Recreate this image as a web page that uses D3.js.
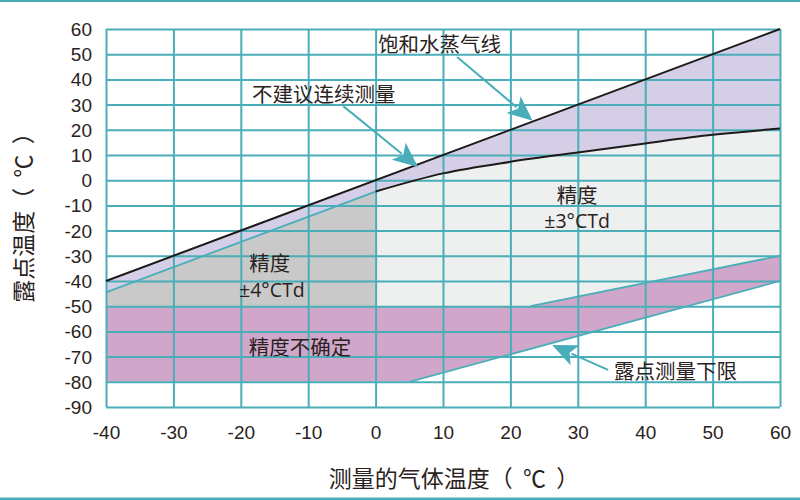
<!DOCTYPE html>
<html>
<head>
<meta charset="utf-8">
<script src="https://cdn.jsdelivr.net/npm/d3@7"></script>
<style>
  body { margin: 0; background: #fff; }
  svg { display: block; }
  .tick text { font-family: "Liberation Sans", Arial, sans-serif; font-size: 19px; fill: #2a2220; }
  .cn { font-family: "Noto Sans CJK SC", sans-serif; fill: #2a2220; }
  .lat { font-family: "Open Sans", "Liberation Sans", sans-serif; fill: #2a2220; }
</style>
</head>
<body>
<div id="chart"></div>
<script>
// chart values
var xTicks = [-40, -30, -20, -10, 0, 10, 20, 30, 40, 50, 60];
var yTicks = [60, 50, 40, 30, 20, 10, 0, -10, -20, -30, -40, -50, -60, -70, -80, -90];

// saturated vapour line (dew point = gas temperature)
var satX = [-40, 60];
var satY = [-40, 60];

// lower edge of the "not recommended" band, left part (teal line)
var tealX = [-40, 0];
var tealY = [-44.5, -4.5];

// lower edge of the band, right part (black curve)
var curveX = [0, 10, 20, 30, 40, 50, 60];
var curveY = [-4.5, 2.7, 7.3, 11, 14.6, 18, 20.5];

// lower limits of measurement
var upperLimitX = [23, 60];
var upperLimitY = [-50, -30];
var lowerLimitX = [5, 60];
var lowerLimitY = [-80, -40];

var accuracyTop = -50;
var uncertainBottom = -80;

// text labels [text, x, y] in data units
var labels = [
  ["饱和水蒸气线", 9.5, 54.4, "cn"],
  ["不建议连续测量", -7.7, 34.8, "cn"],
  ["精度", 29.9, -5.3, "cn"],
  ["±3°CTd", 29.9, -15.9, "lat"],
  ["精度", -15.7, -32.6, "cn"],
  ["±4°CTd", -15.4, -43.2, "lat"],
  ["精度不确定", -11.2, -65.6, "cn"],
  ["露点测量下限", 44.5, -75.5, "cn"]
];

// arrows [fromX, fromY, tipX, tipY] in data units
var arrows = [
  [12.1, 48.9, 23.3, 23.6],
  [-4.8, 29.4, 6.3, 5.2],
  [34.5, -75.3, 26.2, -65.4]
];

var svgWidth = 800;
var svgHeight = 500;

var margin = { top: 29, right: 20, bottom: 93, left: 106 };
var chartWidth = 780 - margin.left;
var chartHeight = svgHeight - margin.top - margin.bottom;

var teal = "#4aaeb9";
var ink = "#1f1a1a";

var svg = d3.select("#chart")
  .append("svg")
  .attr("width", svgWidth)
  .attr("height", svgHeight);

// frame lines top and bottom of the page
svg.append("rect").attr("x", 0).attr("y", 0).attr("width", svgWidth).attr("height", 2).attr("fill", teal);
svg.append("rect").attr("x", 0).attr("y", 497.5).attr("width", svgWidth).attr("height", 2.5).attr("fill", teal);

var x = d3.scaleLinear().domain([-40, 60]).range([margin.left, margin.left + chartWidth]);
var y = d3.scaleLinear().domain([-90, 60]).range([margin.top + chartHeight, margin.top]);

var straight = d3.line().x(d => x(d[0])).y(d => y(d[1]));
var smooth = d3.line().x(d => x(d[0])).y(d => y(d[1])).curve(d3.curveMonotoneX);

var curvePts = curveX.map((v, i) => [v, curveY[i]]);
var curveRev = curvePts.slice().reverse();
var tealPts = tealX.map((v, i) => [v, tealY[i]]);
var satPts = satX.map((v, i) => [v, satY[i]]);
var upPts = upperLimitX.map((v, i) => [v, upperLimitY[i]]);
var lowPts = lowerLimitX.map((v, i) => [v, lowerLimitY[i]]);

function pt(p) { return "L" + x(p[0]) + "," + y(p[1]); }

var fills = svg.append("g");

// light region, accuracy ±3
fills.append("path")
  .attr("d", smooth(curvePts) + pt([60, upperLimitY[1]]) + pt([upperLimitX[0], accuracyTop]) + pt([0, accuracyTop]) + "Z")
  .attr("fill", "#eeefef");

// grey region, accuracy ±4
fills.append("path")
  .attr("d", straight(tealPts) + pt([0, accuracyTop]) + pt([-40, accuracyTop]) + "Z")
  .attr("fill", "#c9c9ca");

// lavender band, not recommended
fills.append("path")
  .attr("d", straight(satPts) + pt(curvePts[curvePts.length - 1]) +
    smooth(curveRev).replace(/^M/, "L") + pt(tealPts[1]) + pt(tealPts[0]) + "Z")
  .attr("fill", "#d5cee7");

// pink band, accuracy uncertain
fills.append("path")
  .attr("d", straight([[-40, accuracyTop], upPts[0], upPts[1], lowPts[1], lowPts[0], [-40, uncertainBottom]]) + "Z")
  .attr("fill", "#d0a7cb");

// grid + tick labels
var yAxis = d3.axisLeft(y).tickValues(yTicks).tickSize(-chartWidth).tickPadding(14).tickFormat(d => String(d));
var xAxis = d3.axisBottom(x).tickValues(xTicks).tickSize(-chartHeight).tickPadding(19).tickFormat(d => String(d));

var gy = svg.append("g").attr("transform", `translate(${margin.left},0)`).call(yAxis);
var gx = svg.append("g").attr("transform", `translate(0,${margin.top + chartHeight})`).call(xAxis);
[gx, gy].forEach(function(g) {
  g.select(".domain").remove();
  g.selectAll(".tick line").attr("stroke", teal).attr("stroke-width", 2);
});
gy.selectAll(".tick text").attr("dy", "0.34em");

// teal boundary lines
var bounds = svg.append("g").attr("fill", "none").attr("stroke", teal).attr("stroke-width", 1.8);
bounds.append("path").attr("d", straight(tealPts));
bounds.append("path").attr("d", straight(upPts));
bounds.append("path").attr("d", straight(lowPts));

// black lines
var blk = svg.append("g").attr("fill", "none").attr("stroke", ink).attr("stroke-width", 2);
blk.append("path").attr("d", straight(satPts));
blk.append("path").attr("d", smooth(curvePts));

// arrows
var arr = svg.append("g");
arrows.forEach(function(a) {
  var sx = x(a[0]), sy = y(a[1]), tx = x(a[2]), ty = y(a[3]);
  var len = Math.hypot(tx - sx, ty - sy);
  var ux = (tx - sx) / len, uy = (ty - sy) / len;
  var L = 25, W = 11;
  var bx = tx - ux * L, by = ty - uy * L;
  arr.append("line")
    .attr("x1", sx).attr("y1", sy).attr("x2", bx + ux * 4).attr("y2", by + uy * 4)
    .attr("stroke", teal).attr("stroke-width", 2);
  arr.append("path")
    .attr("d", `M${tx},${ty}L${bx - uy * W},${by + ux * W}L${bx + ux * 6},${by + uy * 6}L${bx + uy * W},${by - ux * W}Z`)
    .attr("fill", teal);
});

// annotation texts
svg.append("g").selectAll("text")
  .data(labels)
  .enter()
  .append("text")
  .attr("class", d => d[3])
  .attr("x", d => x(d[1]))
  .attr("y", d => y(d[2]))
  .attr("text-anchor", "middle")
  .attr("dominant-baseline", "central")
  .attr("font-size", d => d[3] == "cn" ? 20.5 : 19.5)
  .text(d => d[0]);

// axis titles
svg.append("text")
  .attr("class", "cn")
  .attr("transform", "translate(22," + 212 + ") rotate(-90)")
  .attr("text-anchor", "middle")
  .attr("dominant-baseline", "central")
  .attr("font-size", 23)
  .text("露点温度（\u00a0\u00a0℃\u00a0\u00a0）");

svg.append("text")
  .attr("class", "cn")
  .attr("x", 454)
  .attr("y", 477)
  .attr("text-anchor", "middle")
  .attr("dominant-baseline", "central")
  .attr("font-size", 23)
  .text("测量的气体温度（\u00a0\u00a0℃\u00a0\u00a0）");
</script>
</body>
</html>
